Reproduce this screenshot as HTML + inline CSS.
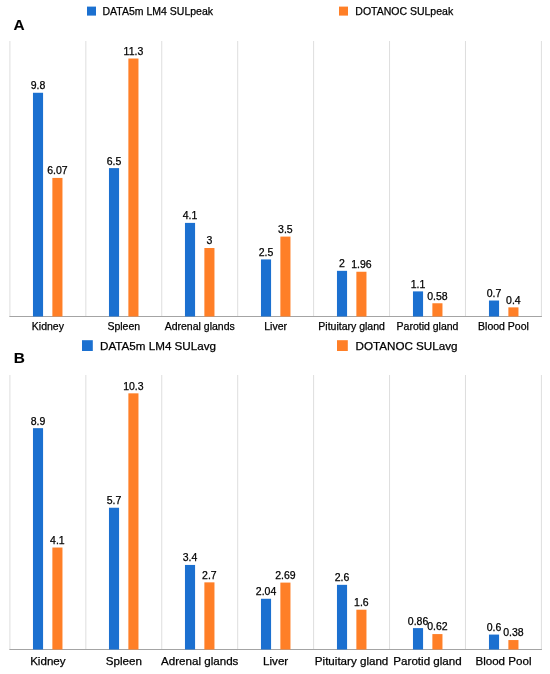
<!DOCTYPE html>
<html><head><meta charset="utf-8"><title>Chart</title>
<style>
html,body{margin:0;padding:0;background:#fff;}
svg{display:block;font-family:"Liberation Sans",sans-serif;fill:#000;stroke:#000;stroke-width:0.25px;}
.g{stroke:#dedede;stroke-width:1;}
.b{stroke:#a4a4a4;stroke-width:1;}
.v{text-anchor:middle;}
.L{font-weight:bold;font-size:15.4px;fill:#000;stroke-width:0.1px;}
rect{stroke:none;}
</style></head><body>
<svg width="550" height="674" viewBox="0 0 550 674">
<rect width="550" height="674" fill="#fff"/>
<line x1="9.90" y1="41" x2="9.90" y2="316.5" class="g"/>
<line x1="85.83" y1="41" x2="85.83" y2="316.5" class="g"/>
<line x1="161.76" y1="41" x2="161.76" y2="316.5" class="g"/>
<line x1="237.69" y1="41" x2="237.69" y2="316.5" class="g"/>
<line x1="313.62" y1="41" x2="313.62" y2="316.5" class="g"/>
<line x1="389.55" y1="41" x2="389.55" y2="316.5" class="g"/>
<line x1="465.48" y1="41" x2="465.48" y2="316.5" class="g"/>
<line x1="541.41" y1="41" x2="541.41" y2="316.5" class="g"/>
<line x1="9.40" y1="316.5" x2="541.91" y2="316.5" class="b"/>
<rect x="32.97" y="92.77" width="10.1" height="223.73" fill="#1b70d0"/>
<rect x="52.37" y="177.92" width="10.1" height="138.58" fill="#ff7f27"/>
<text x="38.02" y="89.17" class="v" font-size="10.5">9.8</text>
<text x="57.42" y="174.32" class="v" font-size="10.5">6.07</text>
<text x="47.87" y="330.4" class="v" font-size="10.5">Kidney</text>
<rect x="108.97" y="168.11" width="10.1" height="148.39" fill="#1b70d0"/>
<rect x="128.37" y="58.52" width="10.1" height="257.98" fill="#ff7f27"/>
<text x="114.02" y="164.51" class="v" font-size="10.5">6.5</text>
<text x="133.42" y="54.92" class="v" font-size="10.5">11.3</text>
<text x="123.80" y="330.4" class="v" font-size="10.5">Spleen</text>
<rect x="184.97" y="222.90" width="10.1" height="93.60" fill="#1b70d0"/>
<rect x="204.37" y="248.01" width="10.1" height="68.49" fill="#ff7f27"/>
<text x="190.02" y="219.30" class="v" font-size="10.5">4.1</text>
<text x="209.42" y="244.41" class="v" font-size="10.5">3</text>
<text x="199.73" y="330.4" class="v" font-size="10.5">Adrenal glands</text>
<rect x="260.97" y="259.43" width="10.1" height="57.07" fill="#1b70d0"/>
<rect x="280.37" y="236.59" width="10.1" height="79.91" fill="#ff7f27"/>
<text x="266.02" y="255.83" class="v" font-size="10.5">2.5</text>
<text x="285.42" y="233.00" class="v" font-size="10.5">3.5</text>
<text x="275.65" y="330.4" class="v" font-size="10.5">Liver</text>
<rect x="336.97" y="270.84" width="10.1" height="45.66" fill="#1b70d0"/>
<rect x="356.37" y="271.75" width="10.1" height="44.75" fill="#ff7f27"/>
<text x="342.02" y="267.24" class="v" font-size="10.5">2</text>
<text x="361.42" y="268.15" class="v" font-size="10.5">1.96</text>
<text x="351.59" y="330.4" class="v" font-size="10.5">Pituitary gland</text>
<rect x="412.97" y="291.39" width="10.1" height="25.11" fill="#1b70d0"/>
<rect x="432.37" y="303.26" width="10.1" height="13.24" fill="#ff7f27"/>
<text x="418.02" y="287.79" class="v" font-size="10.5">1.1</text>
<text x="437.42" y="299.66" class="v" font-size="10.5">0.58</text>
<text x="427.51" y="330.4" class="v" font-size="10.5">Parotid gland</text>
<rect x="488.97" y="300.52" width="10.1" height="15.98" fill="#1b70d0"/>
<rect x="508.37" y="307.37" width="10.1" height="9.13" fill="#ff7f27"/>
<text x="494.02" y="296.92" class="v" font-size="10.5">0.7</text>
<text x="513.42" y="303.77" class="v" font-size="10.5">0.4</text>
<text x="503.45" y="330.4" class="v" font-size="10.5">Blood Pool</text>
<text x="13.4" y="29.5" class="L">A</text>
<rect x="87" y="6.6" width="9" height="9" fill="#1b70d0"/>
<text x="102.5" y="14.79" font-size="10.5">DATA5m LM4 SULpeak</text>
<rect x="339" y="6.6" width="9" height="9" fill="#ff7f27"/>
<text x="355.3" y="14.79" font-size="10.5">DOTANOC SULpeak</text>
<line x1="9.90" y1="375" x2="9.90" y2="649.5" class="g"/>
<line x1="85.83" y1="375" x2="85.83" y2="649.5" class="g"/>
<line x1="161.76" y1="375" x2="161.76" y2="649.5" class="g"/>
<line x1="237.69" y1="375" x2="237.69" y2="649.5" class="g"/>
<line x1="313.62" y1="375" x2="313.62" y2="649.5" class="g"/>
<line x1="389.55" y1="375" x2="389.55" y2="649.5" class="g"/>
<line x1="465.48" y1="375" x2="465.48" y2="649.5" class="g"/>
<line x1="541.41" y1="375" x2="541.41" y2="649.5" class="g"/>
<line x1="9.40" y1="649.5" x2="541.91" y2="649.5" class="b"/>
<rect x="32.97" y="428.16" width="10.1" height="221.34" fill="#1b70d0"/>
<rect x="52.37" y="547.53" width="10.1" height="101.97" fill="#ff7f27"/>
<text x="38.02" y="424.56" class="v" font-size="10.5">8.9</text>
<text x="57.42" y="543.93" class="v" font-size="10.5">4.1</text>
<text x="47.87" y="665.2" class="v" font-size="11.6">Kidney</text>
<rect x="108.97" y="507.74" width="10.1" height="141.76" fill="#1b70d0"/>
<rect x="128.37" y="393.34" width="10.1" height="256.16" fill="#ff7f27"/>
<text x="114.02" y="504.14" class="v" font-size="10.5">5.7</text>
<text x="133.42" y="389.74" class="v" font-size="10.5">10.3</text>
<text x="123.80" y="665.2" class="v" font-size="11.6">Spleen</text>
<rect x="184.97" y="564.94" width="10.1" height="84.56" fill="#1b70d0"/>
<rect x="204.37" y="582.35" width="10.1" height="67.15" fill="#ff7f27"/>
<text x="190.02" y="561.34" class="v" font-size="10.5">3.4</text>
<text x="209.42" y="578.75" class="v" font-size="10.5">2.7</text>
<text x="199.73" y="665.2" class="v" font-size="11.6">Adrenal glands</text>
<rect x="260.97" y="598.77" width="10.1" height="50.73" fill="#1b70d0"/>
<rect x="280.37" y="582.60" width="10.1" height="66.90" fill="#ff7f27"/>
<text x="266.02" y="595.17" class="v" font-size="10.5">2.04</text>
<text x="285.42" y="579.00" class="v" font-size="10.5">2.69</text>
<text x="275.65" y="665.2" class="v" font-size="11.6">Liver</text>
<rect x="336.97" y="584.84" width="10.1" height="64.66" fill="#1b70d0"/>
<rect x="356.37" y="609.71" width="10.1" height="39.79" fill="#ff7f27"/>
<text x="342.02" y="581.24" class="v" font-size="10.5">2.6</text>
<text x="361.42" y="606.11" class="v" font-size="10.5">1.6</text>
<text x="351.59" y="665.2" class="v" font-size="11.6">Pituitary gland</text>
<rect x="412.97" y="628.11" width="10.1" height="21.39" fill="#1b70d0"/>
<rect x="432.37" y="634.08" width="10.1" height="15.42" fill="#ff7f27"/>
<text x="418.02" y="624.51" class="v" font-size="10.5">0.86</text>
<text x="437.42" y="630.48" class="v" font-size="10.5">0.62</text>
<text x="427.51" y="665.2" class="v" font-size="11.6">Parotid gland</text>
<rect x="488.97" y="634.58" width="10.1" height="14.92" fill="#1b70d0"/>
<rect x="508.37" y="640.05" width="10.1" height="9.45" fill="#ff7f27"/>
<text x="494.02" y="630.98" class="v" font-size="10.5">0.6</text>
<text x="513.42" y="636.45" class="v" font-size="10.5">0.38</text>
<text x="503.45" y="665.2" class="v" font-size="11.6">Blood Pool</text>
<text x="13.8" y="362.6" class="L">B</text>
<rect x="82" y="340.2" width="10.8" height="10.8" fill="#1b70d0"/>
<text x="100" y="350.03" font-size="11.65">DATA5m LM4 SULavg</text>
<rect x="337" y="340.2" width="10.8" height="10.8" fill="#ff7f27"/>
<text x="355.5" y="350.03" font-size="11.65">DOTANOC SULavg</text>
</svg>
</body></html>
